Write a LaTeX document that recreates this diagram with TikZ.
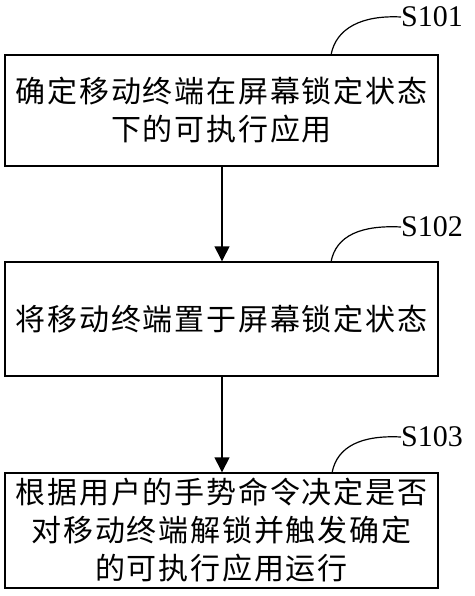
\documentclass[tikz,border=0pt]{standalone}
\usepackage{fontspec}
\setmainfont{Liberation Serif}
\newfontfamily\cjk[LetterSpace=6]{Noto Sans CJK SC}
\usetikzlibrary{arrows.meta}
\begin{document}
\begin{tikzpicture}[x=1pt,y=-1pt,
  stepbox/.style={draw,line width=1.4pt,minimum width=433pt,inner sep=0pt,align=center,
    font=\cjk\fontsize{30}{38}\selectfont},
  flow/.style={line width=1.4pt,-{Triangle[length=15pt,width=15pt]}},
  lbl/.style={anchor=west,inner sep=0pt,font=\fontsize{30}{30}\selectfont},
  lead/.style={line width=1.2pt}]
\useasboundingbox (0,0) rectangle (474,596);
\fill[white] (0,0) rectangle (474,596);
\node[stepbox,minimum height=111pt] (b1) at (221.5,110.5) {确定移动终端在屏幕锁定状态\\下的可执行应用};
\node[stepbox,minimum height=114pt] (b2) at (221.5,319) {将移动终端置于屏幕锁定状态};
\node[stepbox,minimum height=115pt] (b3) at (221.5,530.5) {根据用户的手势命令决定是否\\对移动终端解锁并触发确定\\的可执行应用运行};
\node[lbl] (s1) at (401,17) {S101};
\node[lbl] (s2) at (401,227) {S102};
\node[lbl] (s3) at (401,437) {S103};
\coordinate (c1) at (331,55);
\coordinate (c2) at (331,262);
\coordinate (c3) at (332,473);
\draw[lead] (c1) .. controls (336,28) and (362,15) .. (s1.west);
\draw[lead] (c2) .. controls (336,235) and (362,225) .. (s2.west);
\draw[lead] (c3) .. controls (337,446) and (362,435) .. (s3.west);
\draw[flow] (b1.south -| 222,0) -- (b2.north -| 222,0);
\draw[flow] (b2.south -| 222,0) -- (b3.north -| 222,0);
\end{tikzpicture}
\end{document}
